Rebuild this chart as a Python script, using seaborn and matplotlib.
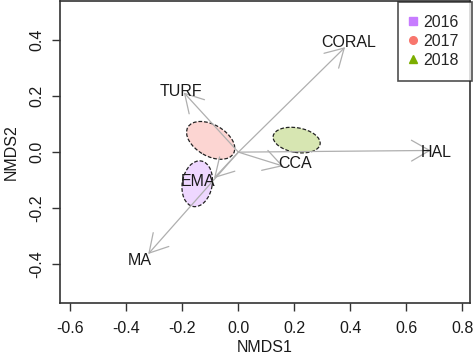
import matplotlib
matplotlib.use("Agg")
import matplotlib.pyplot as plt
from matplotlib.patches import Ellipse
from matplotlib.lines import Line2D
import seaborn as sns

# ordination data
years = ["2016", "2017", "2018"]
year_colors = ["#C77CFF", "#F8766D", "#7CAE00"]
year_markers = ["s", "o", "^"]
ell_x = [-0.147, -0.099, 0.208]
ell_y = [-0.113, 0.042, 0.043]
ell_w = [0.165, 0.188, 0.170]
ell_h = [0.107, 0.112, 0.088]
ell_angle = [80, -30, -10]

species = ["CORAL", "TURF", "HAL", "CCA", "EMA", "MA"]
arrow_x = [0.381, -0.195, 0.687, 0.160, -0.087, -0.322]
arrow_y = [0.375, 0.213, 0.006, -0.050, -0.093, -0.364]
label_x = [0.393, -0.205, 0.706, 0.204, -0.144, -0.351]
label_y = [0.393, 0.218, 0.000, -0.039, -0.105, -0.386]

sns.set_style("ticks")
plt.rcParams["font.family"] = ["Liberation Sans", "DejaVu Sans"]

fig = plt.figure(figsize=(4.74, 3.63), dpi=100)
ax = fig.add_axes([60 / 474, 60 / 363, 410 / 474, 302 / 363])

pal = sns.color_palette(year_colors)

# group ellipses
for i in range(len(years)):
    e = Ellipse((ell_x[i], ell_y[i]), ell_w[i], ell_h[i], angle=ell_angle[i],
                facecolor=pal[i], alpha=0.3, edgecolor="none", zorder=1)
    ax.add_patch(e)
    e2 = Ellipse((ell_x[i], ell_y[i]), ell_w[i], ell_h[i], angle=ell_angle[i],
                 facecolor="none", edgecolor="#222222", lw=0.9,
                 linestyle=(0, (3, 1.5)), zorder=2)
    ax.add_patch(e2)

# fitted vectors
for i in range(len(species)):
    ax.annotate("", xy=(arrow_x[i], arrow_y[i]), xytext=(0, 0),
                arrowprops=dict(arrowstyle="->,head_length=1.3,head_width=0.75",
                                color="#AFAFAF", lw=0.9, shrinkA=0, shrinkB=0,
                                mutation_scale=10), zorder=3)
    ax.text(label_x[i], label_y[i], species[i], ha="center", va="center",
            fontsize=11.5, color="#1a1a1a", zorder=4)

ax.set_xlim(-0.637, 0.827)
ax.set_ylim(-0.539, 0.540)
ax.set_xticks([-0.6, -0.4, -0.2, 0.0, 0.2, 0.4, 0.6, 0.8])
ax.set_yticks([-0.4, -0.2, 0.0, 0.2, 0.4])
ax.set_xticklabels(["-0.6", "-0.4", "-0.2", "0.0", "0.2", "0.4", "0.6", "0.8"])
ax.set_yticklabels(["-0.4", "-0.2", "0.0", "0.2", "0.4"], rotation=90, va="center")
ax.tick_params(axis="both", length=6, width=1, color="#333333",
               labelsize=11.5, labelcolor="#1a1a1a")
ax.tick_params(axis="x", pad=7)
ax.tick_params(axis="y", pad=5)
ax.set_xlabel("NMDS1", fontsize=11.5, color="#1a1a1a", labelpad=3)
ax.set_ylabel("NMDS2", fontsize=11.5, color="#1a1a1a", labelpad=8)
for s in ax.spines.values():
    s.set_visible(True)
    s.set_color("#333333")
    s.set_linewidth(1.2)

handles = [Line2D([], [], marker=year_markers[i], color=pal[i], linestyle="none",
                  markersize=5.5) for i in range(len(years))]
leg = fig.legend(handles, years, loc="upper right", bbox_to_anchor=(472 / 474, 361 / 363),
                 fontsize=11.5, frameon=True, fancybox=False, edgecolor="#222222",
                 handlelength=0.2, handletextpad=0.6, borderpad=0.8,
                 labelspacing=0.25, borderaxespad=0)
leg.get_frame().set_linewidth(1.2)

fig.savefig("out.png", dpi=100)
